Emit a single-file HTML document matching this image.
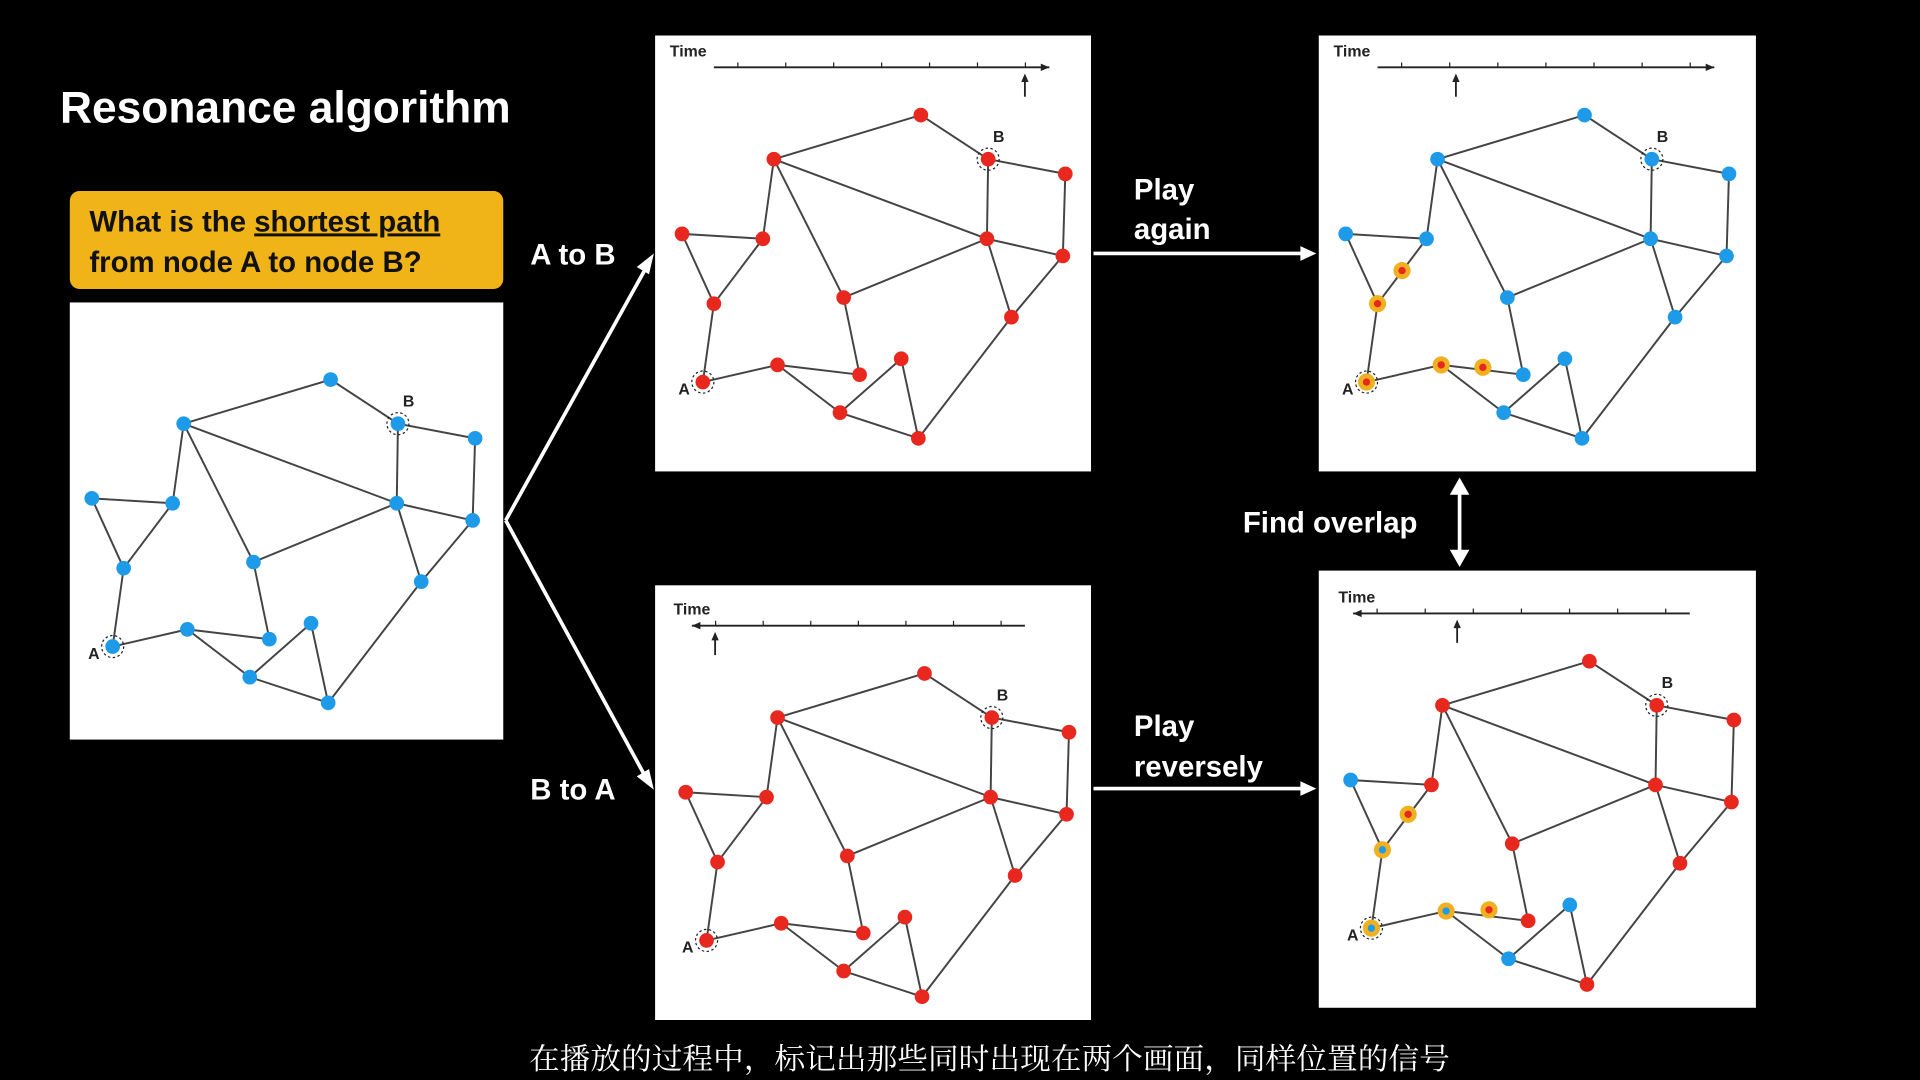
<!DOCTYPE html>
<html><head><meta charset="utf-8"><style>
html,body{margin:0;padding:0;background:#000;width:1920px;height:1080px;overflow:hidden}
svg{display:block}
</style></head><body>
<svg id="s" width="1920" height="1080" viewBox="0 0 1568 882" xmlns="http://www.w3.org/2000/svg" font-family="Liberation Sans, sans-serif">
<rect width="1568" height="882" fill="#000"/>
<text x="49" y="100" fill="#fff" font-size="36" font-weight="bold" textLength="368" lengthAdjust="spacingAndGlyphs">Resonance algorithm</text>
<rect x="57" y="156" width="354" height="80" rx="8" fill="#f0b418"/>
<text x="73" y="189" font-size="24" font-weight="bold" fill="#111">What is the <tspan text-decoration="underline">shortest path</tspan></text>
<text x="73" y="222" font-size="24" font-weight="bold" fill="#111">from node A to node B?</text>
<rect x="57" y="247" width="354" height="357" fill="#fff"/>
<rect x="535" y="29" width="356" height="356" fill="#fff"/>
<rect x="1077" y="29" width="357" height="356" fill="#fff"/>
<rect x="535" y="478" width="356" height="355" fill="#fff"/>
<rect x="1077" y="466" width="357" height="357" fill="#fff"/>
<g fill="#fff" font-size="24" font-weight="bold">
<text x="433" y="216">A to B</text>
<text x="433" y="653">B to A</text>
<text x="926" y="163">Play</text><text x="926" y="195">again</text>
<text x="926" y="601">Play</text><text x="926" y="634">reversely</text>
<text x="1015" y="435">Find overlap</text>
</g>
<g stroke="#fff" stroke-width="3" fill="none">
<polyline points="413,425 528,218"/><polyline points="413,425 528,636"/>
<line x1="893" y1="207" x2="1066" y2="207"/><line x1="893" y1="644" x2="1066" y2="644"/>
<line x1="1192" y1="400" x2="1192" y2="452"/>
</g>
<g fill="#fff">
<polygon points="534,207 520,218 530,224"/><polygon points="534,645 520,634 530,628"/>
<polygon points="1075,207 1062,201 1062,213"/><polygon points="1075,644 1062,638 1062,650"/>
<polygon points="1192,390 1184,404 1200,404"/><polygon points="1192,463 1184,449 1200,449"/>
</g>
<g id="g"></g>
<text x="808" y="873" text-anchor="middle" fill="#fff" font-size="24" font-family="Liberation Serif, Noto Serif CJK SC, serif" textLength="752" lengthAdjust="spacingAndGlyphs">在播放的过程中，标记出那些同时出现在两个画面，同样位置的信号</text>
</svg>
<script>
var N=[[213,63],[93,99],[268,99],[331,111],[18,160],[84,164],[267,164],[329,178],[44,217],[150,212],[287,228],[35,281],[96,267],[163,275],[197,262],[147,306],[211,327]];
var E=[[1,0],[0,2],[2,3],[3,7],[2,6],[1,5],[1,9],[1,6],[4,5],[4,8],[5,8],[8,11],[9,6],[9,13],[6,7],[6,10],[7,10],[10,16],[11,12],[12,13],[12,15],[15,14],[14,16],[15,16]];
var g=document.getElementById('g'),h='';
var B='#1e9be8',R='#e8281e',O='#f0b020';
function panel(ox,oy,cols,ex,time){
 if(time){var y=oy+24;h+='<text x="'+(ox+8)+'" y="'+(oy+15)+'" font-size="13" font-weight="bold" fill="#222">Time</text>';
  h+='<line x1="'+time[0]+'" y1="'+y+'" x2="'+time[1]+'" y2="'+y+'" stroke="#222" stroke-width="1.5"/>';
  for(var t=0;t<7;t++){var tx=time[0]+(time[1]-time[0])*(t+0.5)/7;h+='<line x1="'+tx+'" y1="'+y+'" x2="'+tx+'" y2="'+(y-4)+'" stroke="#222"/>';}
  var ax=time[2]>0?time[1]:time[0],d=time[2];h+='<polygon points="'+ax+','+y+' '+(ax-7*d)+','+(y-3)+' '+(ax-7*d)+','+(y+3)+'" fill="#222"/>';
  h+='<line x1="'+time[3]+'" y1="'+(y+24)+'" x2="'+time[3]+'" y2="'+(y+8)+'" stroke="#222" stroke-width="1.5"/><polygon points="'+time[3]+','+(y+5)+' '+(time[3]-3)+','+(y+12)+' '+(time[3]+3)+','+(y+12)+'" fill="#222"/>';}
 E.forEach(function(e){var a=N[e[0]],b=N[e[1]];h+='<line x1="'+(ox+a[0])+'" y1="'+(oy+a[1])+'" x2="'+(ox+b[0])+'" y2="'+(oy+b[1])+'" stroke="#444" stroke-width="1.6"/>';});
 N.forEach(function(p,i){var c=cols[i]||cols.d,x=ox+p[0],y=oy+p[1];
  if(c==='o'){h+='<circle cx="'+x+'" cy="'+y+'" r="7" fill="'+O+'"/><circle cx="'+x+'" cy="'+y+'" r="3" fill="'+B+'"/>';}
  else if(c==='or'){h+='<circle cx="'+x+'" cy="'+y+'" r="7" fill="'+O+'"/><circle cx="'+x+'" cy="'+y+'" r="3" fill="'+R+'"/>';}
  else h+='<circle cx="'+x+'" cy="'+y+'" r="6" fill="'+c+'"/>';});
 (ex||[]).forEach(function(p){h+='<circle cx="'+(ox+p[0])+'" cy="'+(oy+p[1])+'" r="7" fill="'+O+'"/><circle cx="'+(ox+p[0])+'" cy="'+(oy+p[1])+'" r="3" fill="'+R+'"/>';});
 [[11,-20,10],[2,4,-14]].forEach(function(q){var p=N[q[0]];h+='<circle cx="'+(ox+p[0])+'" cy="'+(oy+p[1])+'" r="9" fill="none" stroke="#222" stroke-dasharray="2,2"/>';
  h+='<text x="'+(ox+p[0]+q[1])+'" y="'+(oy+p[1]+q[2])+'" font-size="13" font-weight="bold" fill="#222">'+(q[0]==11?'A':'B')+'</text>';});
}
panel(57,247,{d:B});
panel(539,31,{d:R},null,[583,857,1,837]);
panel(1081,31,{d:B,11:'or',8:'or',12:'or'},[[64,190],[130,269]],[1125,1400,1,1189]);
panel(542,487,{d:R},null,[565,837,-1,584]);
panel(1085,477,{d:R,4:B,8:'o',11:'o',12:'o',15:B,14:B},[[65,188],[131,266]],[1105,1380,-1,1190]);
g.innerHTML=h;
</script>
</body></html>
